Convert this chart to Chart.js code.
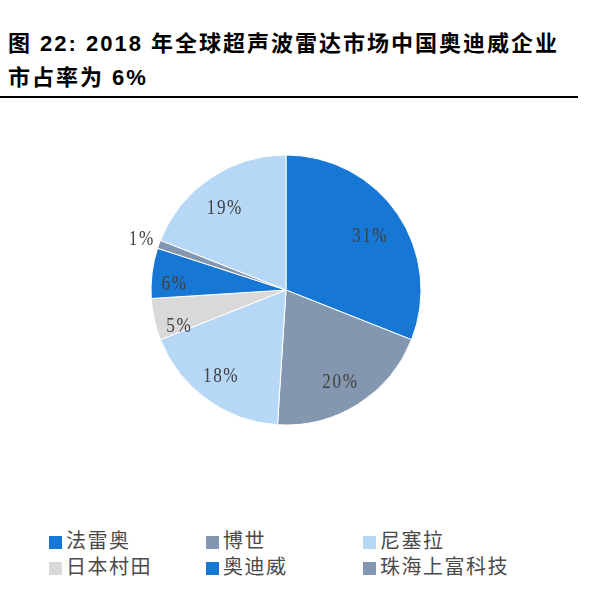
<!DOCTYPE html>
<html>
<head>
<meta charset="utf-8">
<script src="https://cdn.jsdelivr.net/npm/chart.js@4/dist/chart.umd.min.js"></script>
<style>
  html, body { margin: 0; padding: 0; background: #fff; }
  body { width: 591px; height: 599px; position: relative; overflow: hidden; }
  #title { position: absolute; left: 8px; top: 27px; width: 583px; font-family: "Liberation Sans", "Noto Sans CJK SC", sans-serif; font-weight: bold; font-size: 22px; line-height: 34px; letter-spacing: 2px; color: #000; white-space: nowrap; }
  #rule { position: absolute; left: 0; top: 96px; width: 578px; height: 2px; background: #000; }
  #wrap { position: absolute; left: 86px; top: 90px; width: 400px; height: 400px; }
  #legend { position: absolute; left: 49px; top: 526px; width: 540px; font-family: "Noto Sans CJK SC", serif; font-size: 20px; color: #4a4a4a; letter-spacing: 1.5px; }
  .item { position: absolute; height: 28px; line-height: 28px; white-space: nowrap; }
  .box { display: inline-block; width: 13px; height: 13px; margin-right: 4px; vertical-align: -1px; }
</style>
</head>
<body>
<div id="title">图 22: 2018 年全球超声波雷达市场中国奥迪威企业<br>市占率为 6%</div>
<div id="rule"></div>
<div id="wrap"><canvas id="c" width="400" height="400"></canvas></div>
<div id="legend"></div>
<script>
const categories = ["法雷奥", "博世", "尼塞拉", "日本村田", "奥迪威", "珠海上富科技", "其他"];
const shares = [31, 20, 18, 5, 6, 1, 19];
const sliceColors = ["#1777D5", "#8497B0", "#B7D7F7", "#D9D9D9", "#1777D5", "#8497B0", "#B7D7F7"];
const legendCount = 6;

const labelPlugin = {
  id: "sliceLabels",
  afterDatasetsDraw(chart, args, opts) {
    const ctx = chart.ctx;
    const meta = chart.getDatasetMeta(0);
    const nudges = opts.nudges || [];
    ctx.save();
    ctx.font = '22px "Liberation Serif", serif';
    ctx.fillStyle = "#404040";
    ctx.textAlign = "center";
    ctx.textBaseline = "middle";
    if ("letterSpacing" in ctx) ctx.letterSpacing = "2px";
    meta.data.forEach((arc, i) => {
      const p = arc.getProps(["x", "y", "startAngle", "endAngle", "outerRadius"], true);
      const mid = (p.startAngle + p.endAngle) / 2;
      const f = shares[i] < 3 ? 1.12 : 0.78;
      const r = p.outerRadius * f;
      const n = nudges[i] || [0, 0];
      const lx = p.x + Math.cos(mid) * r + n[0];
      const ly = p.y + Math.sin(mid) * r + n[1];
      ctx.save();
      ctx.translate(lx, ly);
      ctx.scale(0.78, 1);
      ctx.fillText(shares[i] + "%", 0, 0);
      ctx.restore();
    });
    ctx.restore();
  }
};

const chart = new Chart(document.getElementById("c"), {
  type: "pie",
  data: {
    labels: categories,
    datasets: [{
      data: shares,
      backgroundColor: sliceColors,
      borderColor: "#ffffff",
      borderWidth: 1
    }]
  },
  options: {
    responsive: false,
    animation: false,
    radius: 135,
    layout: { padding: 0 },
    plugins: {
      legend: { display: false },
      tooltip: { enabled: false },
      sliceLabels: { nudges: [[-3, 5], [-2, 3], [-3, 1], [-4, 13], [-7, 7], [-2, 0], [-2, 5]] }
    }
  },
  plugins: [labelPlugin]
});

// HTML legend built from the chart's data
const legend = document.getElementById("legend");
const colX = [0, 157, 314];
const rowY = [0, 26];
for (let i = 0; i < legendCount; i++) {
  const d = document.createElement("div");
  d.className = "item";
  d.style.left = colX[i % 3] + "px";
  d.style.top = rowY[Math.floor(i / 3)] + "px";
  const b = document.createElement("span");
  b.className = "box";
  b.style.background = chart.data.datasets[0].backgroundColor[i];
  d.appendChild(b);
  d.appendChild(document.createTextNode(chart.data.labels[i]));
  legend.appendChild(d);
}
</script>
</body>
</html>
